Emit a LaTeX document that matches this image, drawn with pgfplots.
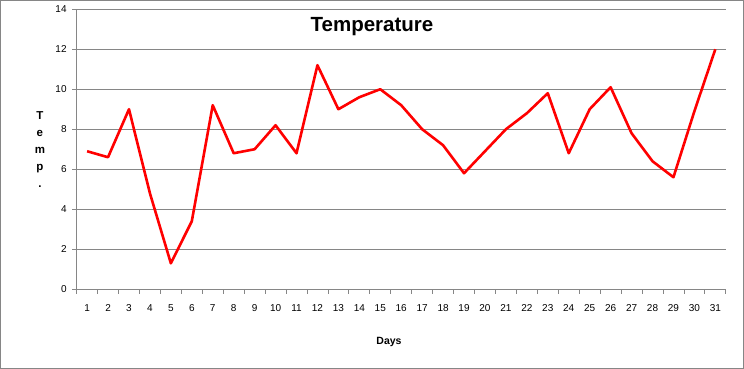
\documentclass[border=0pt]{standalone}
\usepackage{pgfplots}
\pgfplotsset{compat=1.18}
\usepackage{fontspec}
\setmainfont{Liberation Sans}
\definecolor{gridgray}{HTML}{868686}
\begin{document}
\begin{tikzpicture}[x=1pt,y=1pt]
\draw[gridgray, line width=0.8pt] (0.5,0.5) rectangle (743.5,368.5);
\begin{axis}[
  at={(76.7pt,79.7pt)}, anchor=south west,
  scale only axis, width=649pt, height=280pt,
  xmin=0.5, xmax=31.5, ymin=0, ymax=14,
  axis x line*=bottom, axis y line*=left,
  axis line style={gridgray, line width=0.8pt},
  xtick={1,...,31},
  minor xtick={0.5,1.5,...,31.5},
  ytick={0,2,...,14},
  major x tick style={draw=none},
  minor x tick style={gridgray, line width=0.8pt},
  major y tick style={gridgray, line width=0.8pt},
  tick align=outside,
  major tick length=4.5pt, minor tick length=4.5pt,
  ymajorgrids, grid style={gridgray, line width=0.8pt},
  /pgf/number format/assume math mode=true,
  xticklabel style={font=\fontsize{10}{12}\selectfont, yshift=-7pt},
  yticklabel style={font=\fontsize{10}{12}\selectfont, xshift=-2pt},
  clip=false,
]
\addplot[red, line width=2.6pt, line join=round] coordinates {
(1,6.9) (2,6.6) (3,9.0) (4,4.8) (5,1.3) (6,3.4) (7,9.2) (8,6.8) (9,7.0) (10,8.2)
(11,6.8) (12,11.2) (13,9.0) (14,9.6) (15,10.0) (16,9.2) (17,8.0) (18,7.2) (19,5.8) (20,6.9)
(21,8.0) (22,8.8) (23,9.8) (24,6.8) (25,9.0) (26,10.1) (27,7.8) (28,6.4) (29,5.6) (30,8.9)
(31,12.0)
};
\end{axis}
\node[font=\bfseries\fontsize{20.5}{24}\selectfont] at (372pt,342pt) {Temperature};
\node[font=\bfseries\fontsize{11.5}{17}\selectfont, align=center] at (40pt,219pt) {T\\e\\m\\p\\.};
\node[font=\bfseries\fontsize{10.5}{12}\selectfont] at (389pt,27pt) {Days};
\end{tikzpicture}
\end{document}
